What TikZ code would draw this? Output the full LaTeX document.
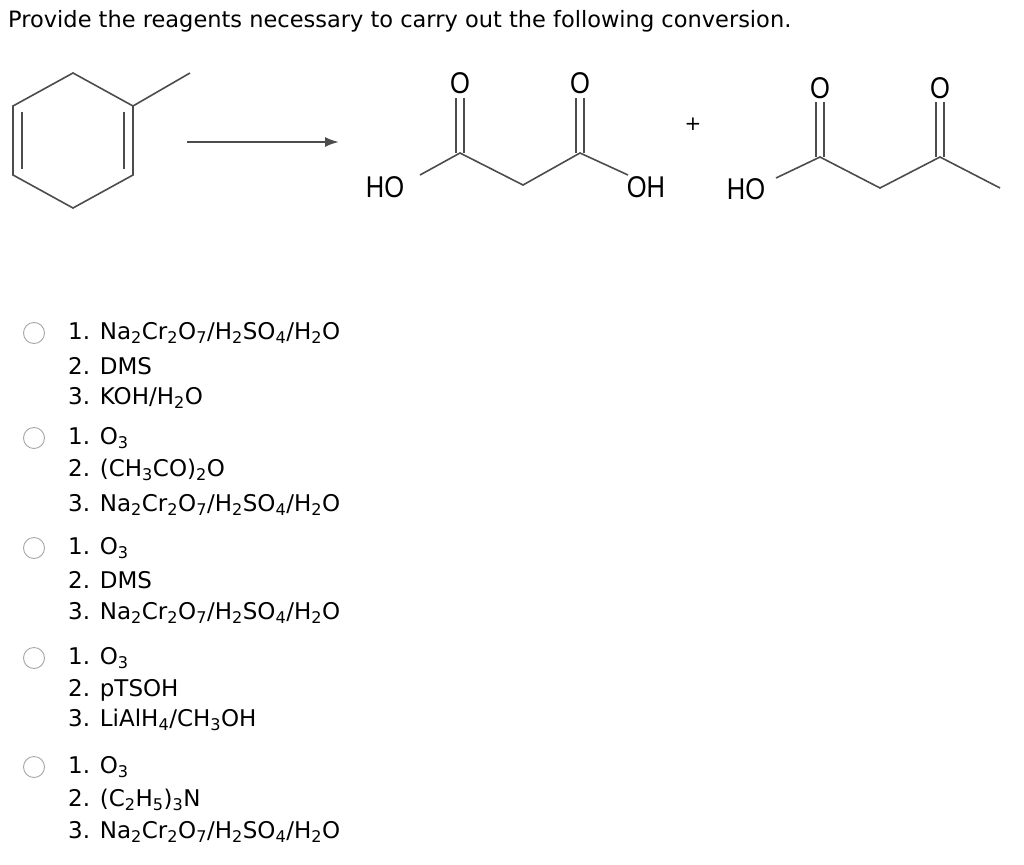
\documentclass[tikz,border=0pt]{standalone}
\usepackage{fontspec}
\setmainfont{DejaVu Sans}
\newfontfamily\lblfont{Liberation Sans}
\usetikzlibrary{arrows.meta}
\newcommand{\sbs}[1]{\textsubscript{#1}}
\begin{document}
\begin{tikzpicture}[x=1pt,y=-1pt,
  bond/.style={line width=1.6pt,color=black!70},
  lbl/.style={font=\lblfont\fontsize{30}{32}\selectfont,inner sep=0pt,xscale=0.85},
  txt/.style={font=\fontsize{23}{26}\selectfont,anchor=west,inner sep=0pt},
  radio/.style={circle,draw=black!35,line width=0.9pt,minimum size=21pt,inner sep=0pt}]
\useasboundingbox (0,0) rectangle (1024,864);
\node[txt,font=\fontsize{22.5}{26}\selectfont] (title) at (8,21) {Provide the reagents necessary to carry out the following conversion.};
% ring
\coordinate (r1) at (73,73); \coordinate (r2) at (133,106); \coordinate (r3) at (133,175);
\coordinate (r4) at (73,208); \coordinate (r5) at (13,175); \coordinate (r6) at (13,106);
\coordinate (me) at (190,73);
\draw[bond] (r1)--(r2)--(r3)--(r4)--(r5)--(r6)--cycle (r2)--(me);
\draw[bond] (22,112)--(22,169) (124,112)--(124,169);
% arrow
\coordinate (a1) at (187,142); \coordinate (a2) at (339,142);
\draw[bond,line width=2pt,-{Latex[length=14pt,width=10pt]}] (a1)--(a2);
% malonic acid
\node[lbl] (ho1) at (385,187) {HO};
\coordinate (c1) at (460,153); \coordinate (m) at (523,185); \coordinate (c2) at (580,153);
\node[lbl] (o1) at (460,83) {O}; \node[lbl] (o2) at (580,83) {O};
\node[lbl] (oh) at (646,187) {OH};
\draw[bond] (420,175)--(c1)--(m)--(c2)--(628,175);
\draw[bond] (456,153)--(456,98) (464,153)--(464,98) (576,153)--(576,98) (584,153)--(584,98);
\node[inner sep=0pt,font=\fontsize{20}{20}\selectfont] (plus) at (693,124) {+};
% acetoacetic acid
\node[lbl] (ho2) at (746,189) {HO};
\coordinate (c3) at (820,157); \coordinate (m2) at (880,188); \coordinate (c4) at (940,157); \coordinate (me2) at (1000,188);
\node[lbl] (o3) at (820,88) {O}; \node[lbl] (o4) at (940,88) {O};
\draw[bond] (776,178)--(c3)--(m2)--(c4)--(me2);
\draw[bond] (816,157)--(816,102) (824,157)--(824,102) (936,157)--(936,102) (944,157)--(944,102);
% options
\foreach \y/\n in {333/1,438/2,548/3,658/4,767/5} \node[radio] (rb\n) at (34,\y) {};
\node[txt] (t11) at (68,333) {1. Na\sbs{2}Cr\sbs{2}O\sbs{7}/H\sbs{2}SO\sbs{4}/H\sbs{2}O};
\node[txt] (t12) at (68,366) {2. DMS};
\node[txt] (t13) at (68,398) {3. KOH/H\sbs{2}O};
\node[txt] (t21) at (68,438) {1. O\sbs{3}};
\node[txt] (t22) at (68,470) {2. (CH\sbs{3}CO)\sbs{2}O};
\node[txt] (t23) at (68,505) {3. Na\sbs{2}Cr\sbs{2}O\sbs{7}/H\sbs{2}SO\sbs{4}/H\sbs{2}O};
\node[txt] (t31) at (68,548) {1. O\sbs{3}};
\node[txt] (t32) at (68,580) {2. DMS};
\node[txt] (t33) at (68,613) {3. Na\sbs{2}Cr\sbs{2}O\sbs{7}/H\sbs{2}SO\sbs{4}/H\sbs{2}O};
\node[txt] (t41) at (68,658) {1. O\sbs{3}};
\node[txt] (t42) at (68,690) {2. pTSOH};
\node[txt] (t43) at (68,720) {3. LiAlH\sbs{4}/CH\sbs{3}OH};
\node[txt] (t51) at (68,767) {1. O\sbs{3}};
\node[txt] (t52) at (68,800) {2. (C\sbs{2}H\sbs{5})\sbs{3}N};
\node[txt] (t53) at (68,832) {3. Na\sbs{2}Cr\sbs{2}O\sbs{7}/H\sbs{2}SO\sbs{4}/H\sbs{2}O};
\end{tikzpicture}
\end{document}
